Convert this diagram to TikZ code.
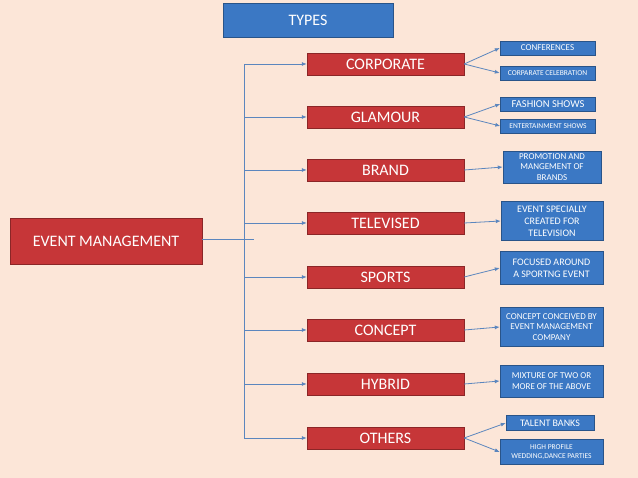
\documentclass[tikz,border=0pt]{standalone}
\usepackage{fontspec}
\setmainfont{Carlito}
\usetikzlibrary{arrows.meta}
\definecolor{bg}{HTML}{FCE6D8}
\definecolor{rbox}{HTML}{C63638}
\definecolor{bbox}{HTML}{3B78C4}
\definecolor{ln}{HTML}{5B86BE}
\begin{document}
\begin{tikzpicture}[x=1pt,y=-1pt,
  red/.style={draw=rbox!70!black,fill=rbox,text=white,inner sep=0pt,minimum width=157pt,minimum height=22pt,font=\fontsize{16}{18}\selectfont},
  blue/.style={draw=bbox!70!black,fill=bbox,text=white,inner sep=1pt,align=center,font=\fontsize{9}{10.5}\selectfont},
  arr/.style={draw=ln,line width=0.8pt,-{Latex[length=5pt,width=4pt]}},
  lin/.style={draw=ln,line width=0.8pt}]
\fill[bg] (0,0) rectangle (638,478);
\useasboundingbox (0,0) rectangle (638,478);
\node[draw=bbox!70!black,fill=bbox,text=white,minimum width=170pt,minimum height=34pt,inner sep=0pt,font=\fontsize{16}{18}\selectfont] (types) at (308,20) {TYPES};
\node[red,minimum width=192pt,minimum height=46pt] (em) at (106,241) {EVENT MANAGEMENT};
\foreach \n/\t/\y in {c1/CORPORATE/64,c2/GLAMOUR/117,c3/BRAND/170,c4/TELEVISED/223,c5/SPORTS/277,c6/CONCEPT/330,c7/HYBRID/384,c8/OTHERS/438}{
  \node[red] (\n) at (385.5,\y) {\t};
  \coordinate (s\n) at (244,\y);
  \draw[arr] (s\n) -- (\n.west);
}
\draw[lin] (sc1) -- (sc8);
\coordinate (emr) at (254,239);
\draw[lin] (em.east|-emr) -- (emr);
\node[blue,minimum width=95pt,minimum height=14pt] (b1) at (547.5,48) {CONFERENCES};
\node[blue,minimum width=95pt,minimum height=14pt,font=\fontsize{7.5}{8}\selectfont] (b2) at (547.5,73) {CORPARATE CELEBRATION};
\node[blue,minimum width=95pt,minimum height=14pt,font=\fontsize{10.5}{11}\selectfont] (b3) at (548,104) {FASHION SHOWS};
\node[blue,minimum width=95pt,minimum height=14pt,font=\fontsize{7.5}{8}\selectfont] (b4) at (548,126) {ENTERTAINMENT SHOWS};
\node[blue,minimum width=98pt,minimum height=32pt] (b5) at (552,167) {PROMOTION AND\\MANGEMENT OF\\BRANDS};
\node[blue,minimum width=102pt,minimum height=39pt,font=\fontsize{10}{12}\selectfont] (b6) at (552,221) {EVENT SPECIALLY\\CREATED FOR\\TELEVISION};
\node[blue,minimum width=103pt,minimum height=33pt,font=\fontsize{10}{12}\selectfont] (b7) at (551.5,268) {FOCUSED AROUND\\A SPORTNG EVENT};
\node[blue,minimum width=103pt,minimum height=39pt] (b8) at (551.5,327) {CONCEPT CONCEIVED BY\\EVENT MANAGEMENT\\COMPANY};
\node[blue,minimum width=103pt,minimum height=32pt] (b9) at (551.5,381) {MIXTURE OF TWO OR\\MORE OF THE ABOVE};
\node[blue,minimum width=88pt,minimum height=15pt,font=\fontsize{10}{11}\selectfont] (b10) at (550,423) {TALENT BANKS};
\node[blue,minimum width=103pt,minimum height=25pt,font=\fontsize{7.5}{9}\selectfont] (b11) at (551.5,452) {HIGH PROFILE\\WEDDING,DANCE PARTIES};
\draw[arr] (c1.east) -- (b1.west);
\draw[arr] (c1.east) -- (b2.west);
\draw[arr] (c2.east) -- (b3.west);
\draw[arr] (c2.east) -- (b4.west);
\draw[arr] (c3.east) -- (b5.west);
\draw[arr] (c4.east) -- (b6.west);
\draw[arr] (c5.east) -- (b7.west);
\draw[arr] (c6.east) -- (b8.west);
\draw[arr] (c7.east) -- (b9.west);
\draw[arr] (c8.east) -- (b10.west);
\draw[arr] (c8.east) -- (b11.west);
\end{tikzpicture}
\end{document}
